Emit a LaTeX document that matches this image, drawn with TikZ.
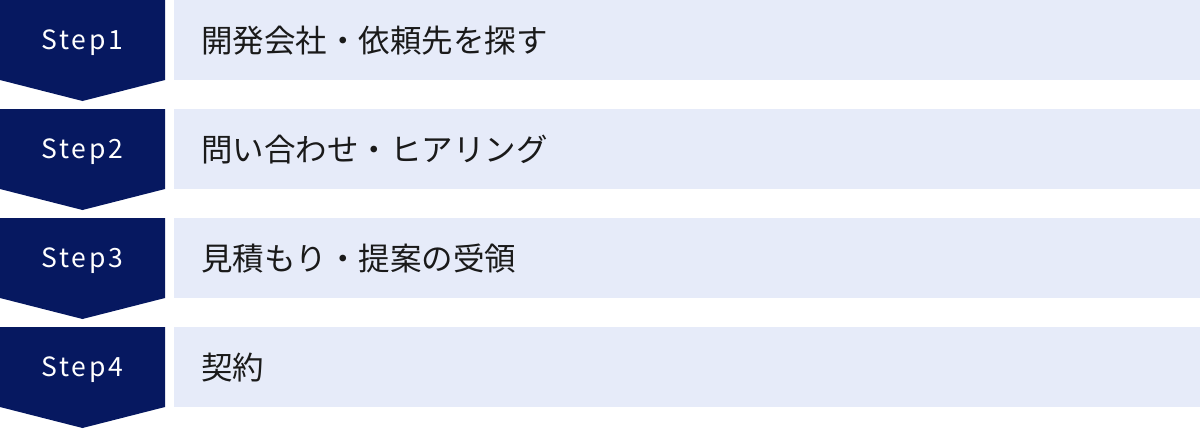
\documentclass[tikz,border=0pt]{standalone}
\usepackage{fontspec}
\newfontfamily\jpfont{Noto Sans CJK JP}
\newfontfamily\stepfont[LetterSpace=10]{Noto Sans CJK JP}
\definecolor{navy}{HTML}{061860}
\definecolor{lightbg}{HTML}{E6EBF9}
\definecolor{txt}{HTML}{1A1A1A}
\tikzset{
  steplabel/.style={text=white,font=\stepfont\fontsize{26.5}{26.5}\selectfont,inner sep=0pt,anchor=base},
  tasklabel/.style={text=txt,font=\jpfont\fontsize{31.5}{31.5}\selectfont,inner sep=0pt,anchor=base west},
}
\begin{document}
\begin{tikzpicture}[x=1pt,y=-1pt]
\useasboundingbox (0,0) rectangle (1200,429);
\foreach \i/\lab/\task in {0/Step1/開発会社・依頼先を探す,1/Step2/問い合わせ・ヒアリング,2/Step3/見積もり・提案の受領,3/Step4/契約}{
  \pgfmathsetmacro{\t}{109*\i}
  \fill[navy] (0,\t) -- (165,\t) -- (165,\t+80) -- (82.5,\t+101) -- (0,\t+80) -- cycle;
  \fill[lightbg] (174,\t) rectangle (1200,\t+80);
  \node[steplabel] (s\i) at (82.5,\t+49) {\lab};
  \node[tasklabel] (t\i) at (201,\t+52.5) {\task};
}
\end{tikzpicture}
\end{document}
